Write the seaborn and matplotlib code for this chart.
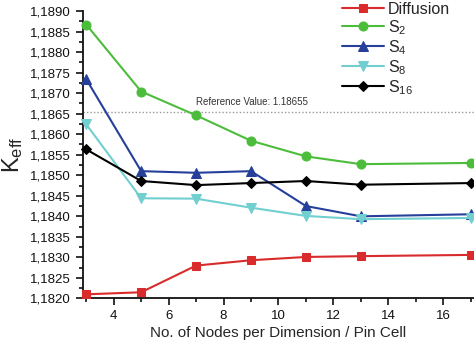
import matplotlib
matplotlib.use("Agg")
import matplotlib.pyplot as plt
from matplotlib.ticker import MultipleLocator, FuncFormatter
import numpy as np
import pandas as pd
import seaborn as sns

# Nodes per dimension in each pin cell
nodes = [3, 5, 7, 9, 11, 13, 17]

# k_eff for each solver
k_diffusion = [1.18210, 1.18215, 1.18280, 1.18293, 1.18301, 1.18303, 1.18306]
k_s2 = [1.18867, 1.18704, 1.18646, 1.18584, 1.18546, 1.18527, 1.18530]
k_s4 = [1.18734, 1.18510, 1.18506, 1.18510, 1.18425, 1.18400, 1.18405]
k_s8 = [1.18624, 1.18444, 1.18443, 1.18421, 1.18401, 1.18393, 1.18396]
k_s16 = [1.18563, 1.18486, 1.18476, 1.18481, 1.18486, 1.18477, 1.18481]

ref_value = 1.18655

series_names = ["Diffusion", r"$\mathregular{S_2}$", r"$\mathregular{S_4}$",
                r"$\mathregular{S_8}$", r"$\mathregular{S_{16}}$"]
series_values = [k_diffusion, k_s2, k_s4, k_s8, k_s16]
series_colors = ["#d92b2b", "#4cbd3b", "#26409a", "#72cfd0", "#000000"]
series_markers = ["s", "o", "^", "v", "D"]
series_msize = [5.5, 6.5, 6.5, 6.5, 5.5]

sns.set_style("ticks")
plt.rcParams["font.family"] = ["Liberation Sans", "DejaVu Sans"]
plt.rcParams["mathtext.fontset"] = "custom"
plt.rcParams["mathtext.rm"] = "Liberation Sans"
plt.rcParams["mathtext.it"] = "Liberation Sans:italic"

fig = plt.figure(figsize=(4.74, 3.45), dpi=100)
ax = fig.add_axes([0.175, 0.135, 0.825, 0.833])

ax.axhline(ref_value, color="#9a9a9a", linestyle=(0, (1, 1.5)), linewidth=1.0, zorder=1)
ax.text(7.0, ref_value + 0.00011, "Reference Value: 1.18655", fontsize=7,
        color="#333333", va="bottom", ha="left")

for name, vals, col, mk, ms in zip(series_names, series_values, series_colors,
                                   series_markers, series_msize):
    df = pd.DataFrame({"nodes": nodes, "keff": vals})
    sns.lineplot(data=df, x="nodes", y="keff", ax=ax, color=col, marker=mk,
                 markersize=ms, markeredgecolor=col, linewidth=1.5, label=name,
                 clip_on=False, zorder=3)

ax.set_xlim(2.88, 17.12)
ax.set_ylim(1.1820, 1.1890)
ax.xaxis.set_major_locator(MultipleLocator(2))
ax.xaxis.set_minor_locator(MultipleLocator(1))
ax.yaxis.set_major_locator(MultipleLocator(0.0005))
ax.yaxis.set_minor_locator(MultipleLocator(0.00025))
ax.yaxis.set_major_formatter(FuncFormatter(lambda v, p: f"{v:.4f}".replace(".", ",")))
ax.xaxis.set_major_formatter(FuncFormatter(lambda v, p: f"{v:.0f}"))

ax.tick_params(axis="both", which="major", length=5, width=1.2, labelsize=9.5,
               direction="out", colors="#111111")
ax.tick_params(axis="both", which="minor", length=3, width=1.2, direction="out",
               colors="#111111")

for side in ["top", "right"]:
    ax.spines[side].set_visible(False)
for side in ["left", "bottom"]:
    ax.spines[side].set_linewidth(1.3)
    ax.spines[side].set_color("#111111")

ax.set_xlabel("No. of Nodes per Dimension / Pin Cell", fontsize=11, labelpad=3)
ax.set_ylabel(r"$\mathregular{K_{eff}}$", fontsize=17, labelpad=4)

leg = ax.legend(loc="upper right", bbox_to_anchor=(0.955, 1.055), frameon=False,
                fontsize=11.5, handlelength=2.6, handletextpad=0.25,
                labelspacing=0.08, borderaxespad=0)

fig.savefig("out.png", dpi=100)
